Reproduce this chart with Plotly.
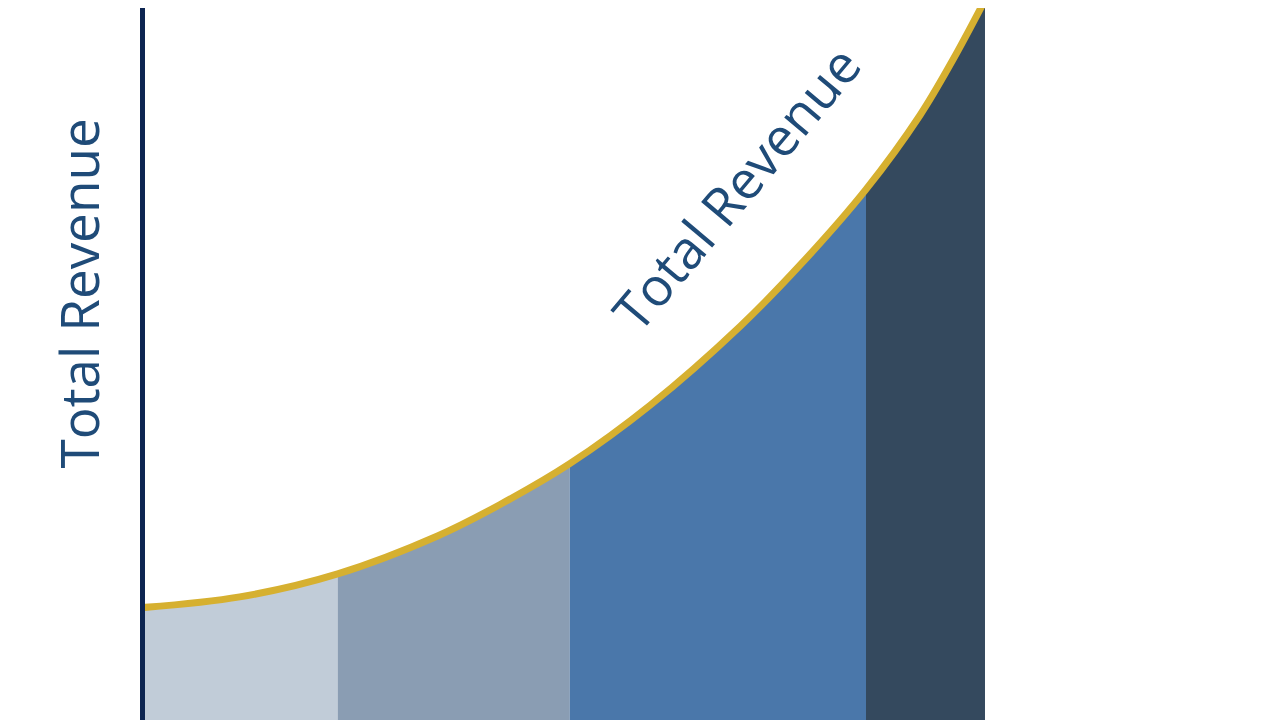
import plotly.graph_objects as go

# quantity (x) and total revenue (y)
quantity = [0.0, 1.17, 2.33, 3.52, 4.25, 5.08, 6.03, 7.10, 7.81, 8.59, 9.23, 9.62, 10.0]
revenue = [15.6, 17.1, 20.3, 25.6, 29.9, 35.6, 43.7, 54.7, 63.2, 73.7, 84.0, 91.7, 100.0]

band_edges = [0.0, 2.33, 5.08, 8.59, 10.0]
band_colors = ["#c1ccd8", "#8a9db3", "#4a77aa", "#34495e"]

label = "Total Revenue"
TEXT = "#1f4b78"

fig = go.Figure()

for i, col in enumerate(band_colors):
    lo, hi = band_edges[i], band_edges[i + 1]
    xs = [q for q in quantity if lo <= q <= hi]
    ys = [r for q, r in zip(quantity, revenue) if lo <= q <= hi]
    fig.add_trace(go.Scatter(
        x=xs, y=ys, mode="lines", line=dict(width=0, shape="spline"),
        fill="tozeroy", fillcolor=col, hoverinfo="skip", showlegend=False,
    ))

fig.add_trace(go.Scatter(
    x=quantity, y=revenue, mode="lines",
    line=dict(color="#d6b030", width=7, shape="spline"),
    hoverinfo="skip", showlegend=False,
))

# label along the curve
fig.add_annotation(
    x=7.05, y=73.9, text=label, showarrow=False, textangle=-50,
    font=dict(family="Open Sans", size=53, color=TEXT),
)
# y axis title, placed by hand (not centred on the axis)
fig.add_annotation(
    xref="paper", yref="paper", x=-0.0656, y=0.603, text=label,
    xanchor="center", yanchor="middle", showarrow=False, textangle=-90,
    font=dict(family="Open Sans", size=53, color=TEXT),
)

fig.update_xaxes(range=[0.047, 12.05], showgrid=False, zeroline=False,
                 showticklabels=False, showline=False, fixedrange=True)
fig.update_yaxes(range=[-1.11, 98.89], showgrid=False, zeroline=False,
                 showticklabels=False, showline=True, linecolor="#0d2551",
                 linewidth=5, fixedrange=True)

fig.update_layout(
    width=1280, height=720,
    margin=dict(l=137, r=130, t=0, b=0),
    plot_bgcolor="white", paper_bgcolor="white",
)

fig.write_html("out.html")
